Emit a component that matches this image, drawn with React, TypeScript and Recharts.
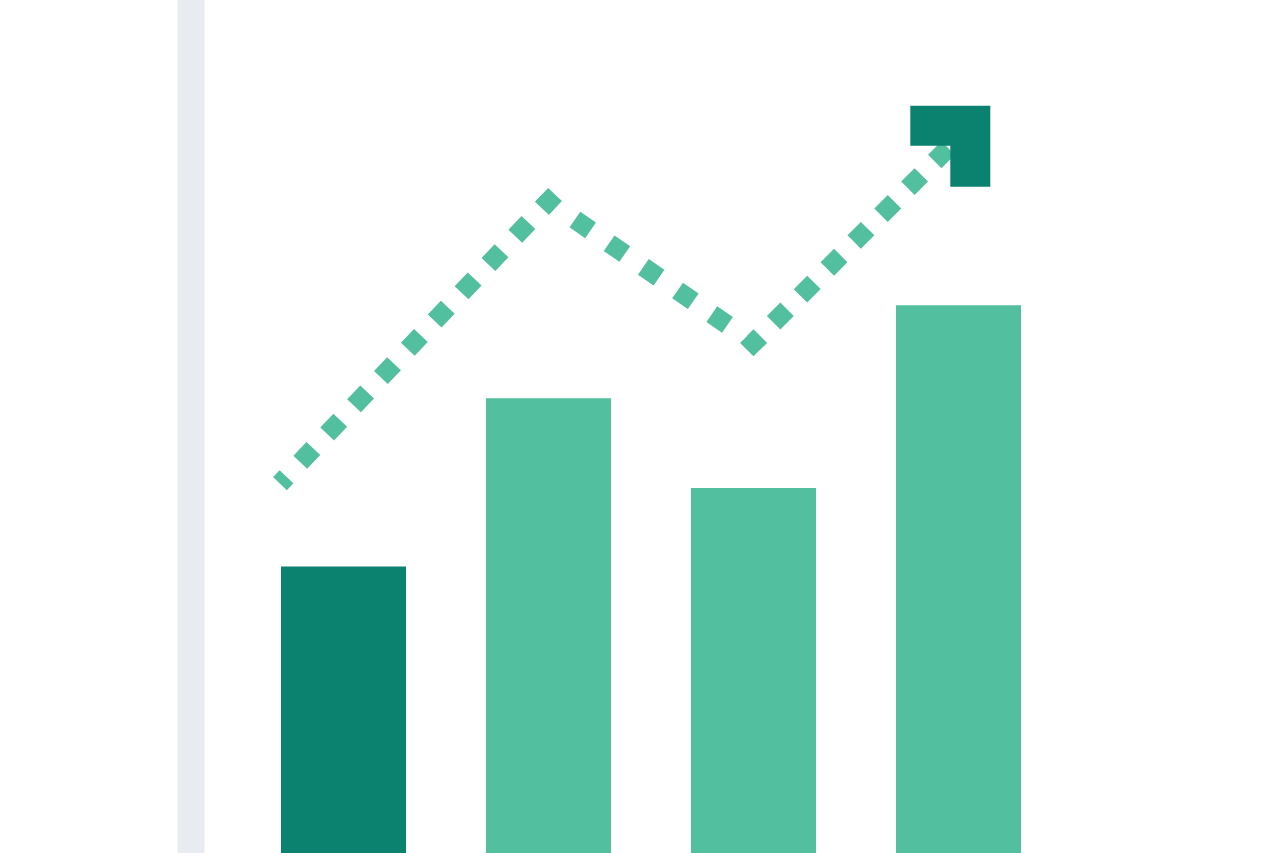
import { ComposedChart, Bar, Line, XAxis, YAxis, Cell } from 'recharts'

const categories = ['Q1', 'Q2', 'Q3', 'Q4']
const barValues = [33.6, 53.3, 42.8, 64.2]
const trendPos = [0.19, 1.5, 2.5, 3.46]
const trendValues = [43.3, 76.4, 59.8, 82.9]

const DARK = '#0b8270'
const LIGHT = '#52bf9f'

// square dash sitting on a vertex, turned along the rising leg
const vertexSquare = (cx: number, cy: number, angle: number, key: string) => (
  <rect key={key} x={cx - 9.5} y={cy - 9.5} width={19} height={19} fill={LIGHT}
    transform={`rotate(${angle} ${cx} ${cy})`} />
)

// L-shaped arrowhead on the last point
const arrowHead = (cx: number, cy: number, key: string) => {
  const pts = [
    [-40, -40], [40, -40], [40, 41], [0, 41], [0, 0], [-40, 0],
  ].map(([x, y]) => `${cx + x},${cy + y}`).join(' ')
  return <polygon key={key} points={pts} fill={DARK} />
}

const leg1Dot = (p: any) => {
  const key = `a${p.index}`
  if (p.index !== 1 || p.cy == null) return <g key={key} />
  return vertexSquare(p.cx, p.cy, -46.6, key)
}

const leg3Dot = (p: any) => {
  const key = `c${p.index}`
  if (p.cy == null) return <g key={key} />
  if (p.index === 2) return vertexSquare(p.cx, p.cy, -45, key)
  if (p.index === 3) return arrowHead(p.cx, p.cy, key)
  return <g key={key} />
}

// each leg of the trend is dashed on its own
const segments = [
  { key: 'leg1', from: 0, dash: '19 20', offset: 9.5, dot: leg1Dot },
  { key: 'leg2', from: 1, dash: '0 32.1 19 22.6 19 22.6 19 22.6 19 22.6 19 200', offset: 0, dot: false },
  { key: 'leg3', from: 2, dash: '19 19', offset: 9.5, dot: leg3Dot },
]

const data = categories.map((name, i) => {
  const row: any = { name, value: barValues[i], pos: trendPos[i] }
  segments.forEach((s) => {
    row[s.key] = i === s.from || i === s.from + 1 ? trendValues[i] : null
  })
  return row
})

export default function App() {
  const pad = { left: 50, right: 219 }
  return (
    <div style={{ position: 'absolute', left: 0, top: 0, width: 1280, height: 853, background: '#fff' }}>
      <ComposedChart width={1280} height={853} data={data} margin={{ top: 0, right: 0, bottom: 0, left: 0 }}>
        <XAxis xAxisId="cat" dataKey="name" hide padding={pad} />
        <XAxis xAxisId="num" dataKey="pos" type="number" domain={[0, 4]} hide padding={pad} />
        <YAxis
          width={191}
          domain={[0, 100]}
          tick={false}
          tickLine={false}
          axisLine={{ stroke: '#e8ebf0', strokeWidth: 27 }}
        />
        <Bar xAxisId="cat" dataKey="value" barSize={125} isAnimationActive={false}>
          {data.map((_, i) => (
            <Cell key={i} fill={i === 0 ? DARK : LIGHT} />
          ))}
        </Bar>
        {segments.map((s) => (
          <Line
            key={s.key}
            xAxisId="num"
            type="linear"
            dataKey={s.key}
            stroke={LIGHT}
            strokeWidth={19}
            strokeDasharray={s.dash}
            strokeDashoffset={s.offset}
            strokeLinecap="butt"
            connectNulls={false}
            dot={s.dot as any}
            activeDot={false}
            isAnimationActive={false}
          />
        ))}
      </ComposedChart>
    </div>
  )
}
